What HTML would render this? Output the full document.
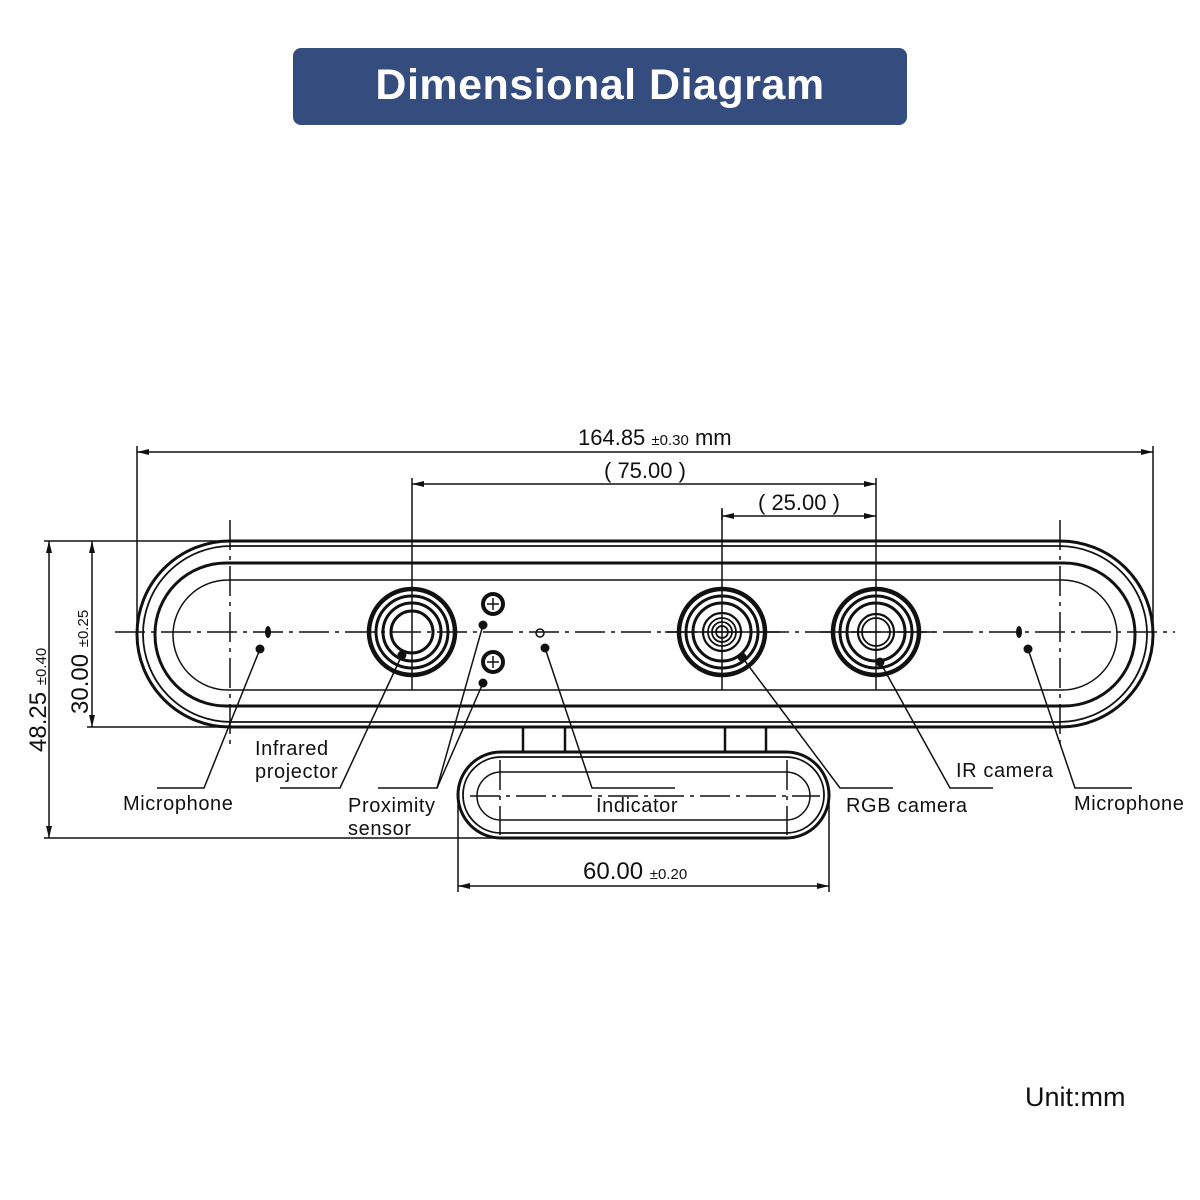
<!DOCTYPE html>
<html><head><meta charset="utf-8"><style>
html,body{margin:0;padding:0;background:#fff;}
svg{display:block;font-family:"Liberation Sans",sans-serif;}
</style></head><body>
<svg width="1200" height="1200" viewBox="0 0 1200 1200" xmlns="http://www.w3.org/2000/svg">
<rect x="293" y="48" width="614" height="77" rx="8" fill="#344c7e"/>
<text x="600" y="99" text-anchor="middle" fill="#fff" font-size="43" font-weight="bold" letter-spacing="0.5">Dimensional Diagram</text>

<g fill="none" stroke="#111">
<rect x="137" y="541" width="1016" height="186" rx="93" stroke-width="3"/>
<rect x="143" y="546" width="1004" height="176" rx="88" stroke-width="1.8"/>
<rect x="155" y="563" width="980" height="143" rx="71" stroke-width="3"/>
<rect x="173" y="580" width="944" height="110" rx="55" stroke-width="1.5"/>
<rect x="523" y="727" width="42" height="25" stroke-width="2.5"/>
<rect x="725" y="727" width="41" height="25" stroke-width="2.5"/>
<rect x="458" y="752" width="371" height="86" rx="43" stroke-width="3"/>
<rect x="463" y="757" width="361" height="76" rx="38" stroke-width="1.8"/>
<rect x="477" y="772" width="333" height="48" rx="24" stroke-width="1.5"/>
<g stroke-width="1.5" stroke-dasharray="30,6,4,6">
<line x1="115" y1="632" x2="1175" y2="632"/>
<line x1="470" y1="796" x2="820" y2="796"/>
</g>
<g stroke-width="1.5" stroke-dasharray="30,6,4,6">
<line x1="230" y1="520" x2="230" y2="745"/>
<line x1="1060" y1="520" x2="1060" y2="745"/>
<line x1="500" y1="760" x2="500" y2="835"/>
<line x1="787" y1="760" x2="787" y2="835"/>
</g>
<g>
<circle cx="412" cy="632" r="43" stroke-width="4.5"/>
<circle cx="412" cy="632" r="36" stroke-width="3"/>
<circle cx="412" cy="632" r="29" stroke-width="3"/>
<circle cx="412" cy="632" r="21" stroke-width="3"/>
<circle cx="722" cy="632" r="43" stroke-width="4.5"/>
<circle cx="722" cy="632" r="36" stroke-width="3"/>
<circle cx="722" cy="632" r="29" stroke-width="3"/>
<circle cx="722" cy="632" r="19" stroke-width="2.2"/>
<circle cx="722" cy="632" r="14" stroke-width="1.8"/>
<circle cx="722" cy="632" r="10" stroke-width="1.8"/>
<circle cx="722" cy="632" r="6" stroke-width="1.8"/>
<circle cx="876" cy="632" r="43" stroke-width="4.5"/>
<circle cx="876" cy="632" r="36" stroke-width="3"/>
<circle cx="876" cy="632" r="29" stroke-width="3"/>
<circle cx="876" cy="632" r="18" stroke-width="2.2"/>
<circle cx="876" cy="632" r="14" stroke-width="1.8"/>
<circle cx="493" cy="604" r="10" stroke-width="4"/>
<circle cx="493" cy="662" r="10" stroke-width="4"/>
<circle cx="540" cy="633" r="4" stroke-width="1.5"/>
</g>
<g stroke-width="1.5">
<line x1="412" y1="520" x2="412" y2="690"/>
<line x1="722" y1="508" x2="722" y2="690"/>
<line x1="876" y1="478" x2="876" y2="690"/>
<line x1="665" y1="632" x2="780" y2="632"/>
<line x1="820" y1="632" x2="935" y2="632"/>
<line x1="487" y1="604" x2="499" y2="604"/><line x1="493" y1="598" x2="493" y2="610"/>
<line x1="487" y1="662" x2="499" y2="662"/><line x1="493" y1="656" x2="493" y2="668"/>
</g>
<g stroke-width="1.5">
<line x1="137" y1="446" x2="137" y2="640"/>
<line x1="1153" y1="446" x2="1153" y2="640"/>
<line x1="137" y1="452" x2="1153" y2="452"/>
<line x1="412" y1="478" x2="412" y2="520"/>
<line x1="412" y1="484" x2="876" y2="484"/>
<line x1="722" y1="510" x2="722" y2="520"/>
<line x1="722" y1="516" x2="876" y2="516"/>
<line x1="44" y1="541" x2="230" y2="541"/>
<line x1="87" y1="727" x2="230" y2="727"/>
<line x1="44" y1="838" x2="500" y2="838"/>
<line x1="49" y1="541" x2="49" y2="838"/>
<line x1="92" y1="541" x2="92" y2="727"/>
<line x1="458" y1="800" x2="458" y2="892"/>
<line x1="829" y1="800" x2="829" y2="892"/>
<line x1="458" y1="886" x2="829" y2="886"/>
</g>
<g stroke-width="1.5">
<polyline points="157,788 204,788 260,649"/>
<polyline points="280,788 340,788 402,655"/>
<polyline points="378,788 437,788 483,625"/>
<line x1="437" y1="788" x2="483" y2="683"/>
<polyline points="545,648 592,788 675,788"/>
<polyline points="742,657 840,788 893,788"/>
<polyline points="880,662 950,788 993,788"/>
<polyline points="1028,649 1075,788 1132,788"/>
</g>
</g>
<g fill="#111">
<circle cx="260" cy="649" r="4.5"/><circle cx="402" cy="655" r="4.5"/>
<circle cx="483" cy="625" r="4.5"/><circle cx="483" cy="683" r="4.5"/>
<circle cx="545" cy="648" r="4.5"/><circle cx="742" cy="657" r="4.5"/>
<circle cx="880" cy="662" r="4.5"/><circle cx="1028" cy="649" r="4.5"/>
<ellipse cx="268" cy="632" rx="3" ry="6"/><ellipse cx="1019" cy="632" rx="3" ry="6"/>
<path d="M137 452 l12 -3 v6z M1153 452 l-12 -3 v6z M412 484 l12 -3 v6z M876 484 l-12 -3 v6z M722 516 l12 -3 v6z M876 516 l-12 -3 v6z M458 886 l12 -3 v6z M829 886 l-12 -3 v6z M49 541 l-3 12 h6z M49 838 l-3 -12 h6z M92 541 l-3 12 h6z M92 727 l-3 -12 h6z"/>
</g>
<g fill="#111" font-size="22">
<text x="578" y="445">164.85 <tspan font-size="15">±0.30</tspan> mm</text>
<text x="604" y="478">( 75.00 )</text>
<text x="758" y="510">( 25.00 )</text>
<text x="583" y="879" font-size="24">60.00 <tspan font-size="15">±0.20</tspan></text>
<text transform="translate(46,752) rotate(-90)" font-size="24">48.25 <tspan font-size="15">±0.40</tspan></text>
<text transform="translate(88,714) rotate(-90)" font-size="24">30.00 <tspan font-size="15">±0.25</tspan></text>
<g font-size="20" letter-spacing="0.6">
<text x="123" y="810">Microphone</text>
<text x="255" y="755">Infrared</text>
<text x="255" y="778">projector</text>
<text x="348" y="812">Proximity</text>
<text x="348" y="835">sensor</text>
<text x="596" y="812">Indicator</text>
<text x="846" y="812">RGB camera</text>
<text x="956" y="777">IR camera</text>
<text x="1074" y="810">Microphone</text>
</g>
<text x="1025" y="1106" font-size="27">Unit:mm</text>
</g>
</svg>
</body></html>
